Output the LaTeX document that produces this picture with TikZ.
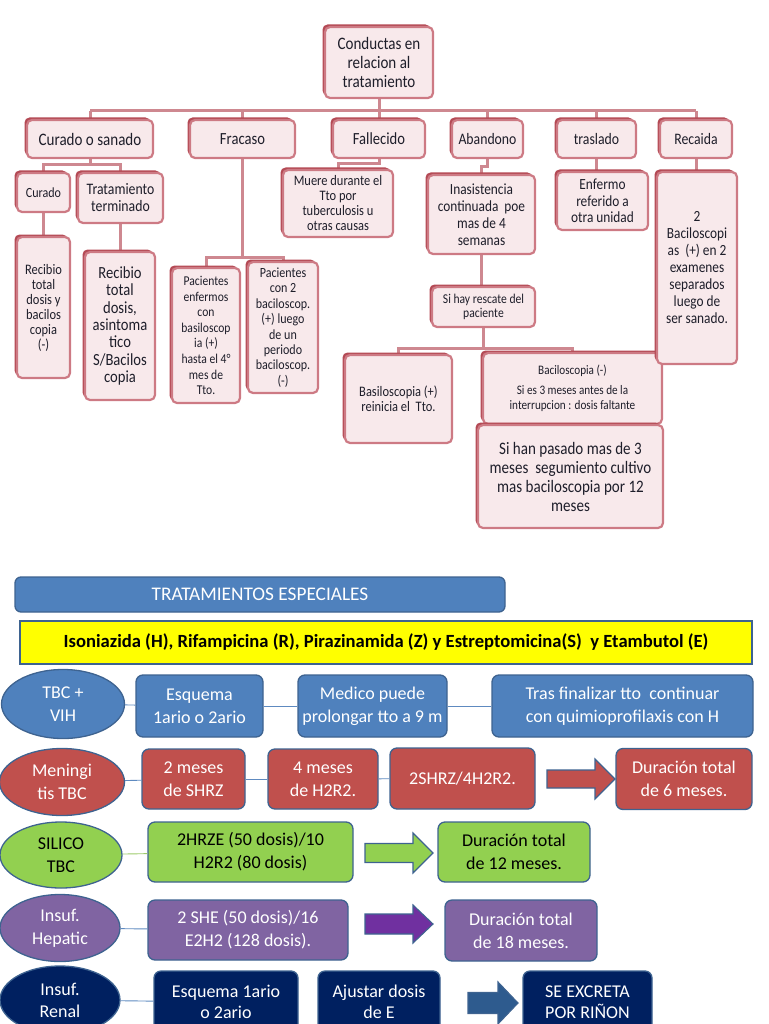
\documentclass[tikz,border=0pt]{standalone}
\usepackage{fontspec}
\setmainfont{Carlito}
\newfontfamily\cond[FakeStretch=0.86]{Carlito}
\usetikzlibrary{shapes.geometric,shadows,backgrounds}
\definecolor{bxborder}{HTML}{CD7A84}
\definecolor{bxfill}{HTML}{F8E9EB}
\definecolor{bxshadow}{HTML}{B44A55}
\definecolor{connc}{HTML}{CE8890}
\definecolor{txt}{HTML}{1E1E2A}
\definecolor{acblue}{HTML}{4F81BD}
\definecolor{acbord}{HTML}{3E6390}
\definecolor{acred}{HTML}{C0504D}
\definecolor{acgreen}{HTML}{92D050}
\definecolor{acpurple}{HTML}{8064A2}
\definecolor{arpurple}{HTML}{7030A0}
\definecolor{acnavy}{HTML}{002060}
\definecolor{arnavy}{HTML}{2E5B8E}
\definecolor{yel}{HTML}{FFFF00}
\definecolor{linkblue}{HTML}{5E8AC0}
\definecolor{linkgreen}{HTML}{9CCB6A}
\newcommand\fs[2]{\fontsize{#1}{#2}\selectfont}
\newcommand\blockarr[7]{%
  \filldraw[fill=#7, draw=acbord, line width=1.1pt, line join=miter]
    (#1,#4-#5) -- (#2,#4-#5) -- (#2,#4-#6) -- (#3,#4) -- (#2,#4+#6) -- (#2,#4+#5) -- (#1,#4+#5) -- cycle;}
\tikzset{
  tbox/.style={rectangle, rounded corners=5pt, draw=bxborder, line width=2.2pt, fill=bxfill,
    text=txt, align=center, inner sep=1pt,
    drop shadow={shadow xshift=-2.5pt, shadow yshift=2.5pt, fill=bxshadow, opacity=1}},
  tconn/.style={draw=connc, line width=3pt},
  bb/.style={rectangle, rounded corners=7pt, draw=acbord, line width=1.3pt, align=center,
    font=\fs{18}{23}, text=white, inner sep=1pt},
  ell/.style={ellipse, draw=acbord, line width=1.3pt, align=center, font=\fs{18}{23},
    text=white, inner sep=0pt},
  lk/.style={draw=linkblue, line width=0.9pt},
}
\begin{document}
\begin{tikzpicture}[x=1pt,y=-1pt]
\useasboundingbox (0,0) rectangle (768,1024);

% ---------------- top tree ----------------
\node[tbox, minimum width=108pt, minimum height=71pt, font=\cond\fs{17.5}{19}] (root) at (379,62.5) {Conductas en\\relacion al\\tratamiento};

\node[tbox, minimum width=126pt, minimum height=38pt, font=\cond\fs{17.5}{19}] (cs) at (90,139) {Curado o sanado};
\node[tbox, minimum width=105pt, minimum height=38pt, font=\cond\fs{17}{19}] (fr) at (242.5,139) {Fracaso};
\node[tbox, minimum width=92pt, minimum height=38pt, font=\cond\fs{17}{19}] (fa) at (379,139) {Fallecido};
\node[tbox, minimum width=71pt, minimum height=38pt, font=\cond\fs{16}{19}] (ab) at (487.5,139) {Abandono};
\node[tbox, minimum width=79pt, minimum height=38pt, font=\cond\fs{16}{19}] (tr) at (596.5,139) {traslado};
\node[tbox, minimum width=72pt, minimum height=38pt, font=\cond\fs{16}{19}] (re) at (696,139) {Recaida};

\node[tbox, minimum width=53pt, minimum height=39pt, font=\cond\fs{14}{16}] (cu) at (43.5,192.5) {Curado};
\node[tbox, minimum width=85pt, minimum height=50pt, font=\cond\fs{16}{17}] (tt) at (120.5,198) {Tratamiento\\terminado};
\node[tbox, minimum width=53pt, minimum height=141pt, font=\cond\fs{14.5}{15}] (rc1) at (43.5,307.5) {Recibio\\total\\dosis y\\bacilos\\copia\\(-)};
\node[tbox, minimum width=70pt, minimum height=148pt, font=\cond\fs{17}{17.3}] (rc2) at (120,326) {Recibio\\total\\dosis,\\asintoma\\tico\\S/Bacilos\\copia};

\node[tbox, minimum width=68pt, minimum height=135pt, font=\cond\fs{13.5}{15.6}] (pe) at (206,335.5) {Pacientes\\enfermos\\con\\basiloscop\\ia (+)\\hasta el 4°\\mes de\\Tto.};
\node[tbox, minimum width=70pt, minimum height=131pt, font=\cond\fs{14}{15.4}] (pc) at (283,327.5) {Pacientes\\con 2\\baciloscop.\\(+) luego\\de un\\periodo\\baciloscop.\\(-)};

\node[tbox, minimum width=110pt, minimum height=67pt, font=\cond\fs{14.5}{15}] (mu) at (338,203.5) {Muere durante el\\Tto por\\tuberculosis u\\otras causas};

\node[tbox, minimum width=107pt, minimum height=79pt, font=\cond\fs{15.5}{17}] (in) at (481.5,214.5) {Inasistencia\\continuada~ poe\\mas de 4\\semanas};
\node[tbox, minimum width=103pt, minimum height=40pt, font=\cond\fs{13.5}{14.5}] (sh) at (483.5,307) {Si hay rescate del\\paciente};
\node[tbox, minimum width=107pt, minimum height=88pt, font=\cond\fs{14.5}{15.5}] (bp) at (398.5,399) {Basiloscopia (+)\\reinicia el~ Tto.};
\node[tbox, minimum width=179pt, minimum height=71pt, font=\cond\fs{13}{15}] (bn) at (572.5,388.5) {Baciloscopia (-)\\[5pt]Si es 3 meses antes de la\\interrupcion : dosis faltante};
\node[tbox, minimum width=185pt, minimum height=103pt, font=\cond\fs{17.5}{19}] (sp) at (570.5,476.5) {Si han pasado mas de 3\\meses~ segumiento cultivo\\mas baciloscopia por 12\\meses};

\node[tbox, minimum width=91pt, minimum height=58pt, font=\cond\fs{15.5}{16.7}] (en) at (602.5,201) {Enfermo\\referido a\\otra unidad};
\node[tbox, minimum width=80pt, minimum height=192pt, font=\cond\fs{15.5}{17}] (b2) at (697,268) {2\\Baciloscopi\\as~ (+) en 2\\examenes\\separados\\luego de\\ser sanado.};

\begin{scope}[on background layer]
\draw[tconn] (root.south) -- (root.south |- 0,111);
\draw[tconn] (cs.north |- 0,111) -- (re.north |- 0,111);
\foreach \c in {cs,fr,fa,ab,tr,re} \draw[tconn] (\c.north |- 0,111) -- (\c.north);
\draw[tconn] (cs.south) -- ++(0,5) -| (cu.north);
\draw[tconn] (cs.south) -- ++(0,5) -| (tt.north);
\draw[tconn] (cu.south) -- (cu.south |- rc1.north);
\draw[tconn] (tt.south) -- (tt.south |- rc2.north);
\draw[tconn] (fr.south) -- (fr.south |- 0,257) -| (pe.north);
\draw[tconn] (fr.south |- 0,257) -| (pc.north);
\draw[tconn] (fa.south) -- ++(0,4) -| (mu.north);
\draw[tconn] (ab.south) -- ++(0,7) -| (in.north);
\draw[tconn] (in.south) -- (in.south |- sh.north);
\draw[tconn] (sh.south) -- ++(0,20) -| (bp.north);
\draw[tconn] (sh.south) -- ++(0,20) -| (bn.north);
\draw[tconn] (tr.south) -- (tr.south |- en.north);
\draw[tconn] (re.south) -- (re.south |- b2.north);
\end{scope}

% ---------------- bottom ----------------
\node[bb, fill=acblue, minimum width=490pt, minimum height=35pt, rounded corners=6pt, font=\fs{19.3}{23}] (title) at (260,594.5) {TRATAMIENTOS ESPECIALES};
\node[rectangle, draw=acbord, line width=1.5pt, fill=yel, minimum width=732pt, minimum height=43pt, font=\bfseries\fs{18.6}{22}, text=black] (drugs) at (386,642.5) {Isoniazida (H), Rifampicina (R), Pirazinamida (Z) y Estreptomicina(S)~ y Etambutol (E)};

% row 1
\node[ell, fill=acblue, minimum width=123pt, minimum height=69pt] (e1) at (63,704) {TBC +\\VIH};
\node[bb, fill=acblue, minimum width=127pt, minimum height=62pt] (b11) at (199.5,706) {Esquema\\1ario o 2ario};
\node[bb, fill=acblue, minimum width=149pt, minimum height=62pt] (b12) at (372.5,706) {Medico puede\\prolongar tto a 9 m};
\node[bb, fill=acblue, minimum width=261pt, minimum height=62pt] (b13) at (622.5,706) {Tras finalizar tto~ continuar\\con quimioprofilaxis con H};
\draw[lk] (e1) -- (b11);
\draw[lk] (b11) -- (b12);
\draw[lk] (b12) -- (b13);

% row 2
\node[ell, fill=acred, minimum width=125pt, minimum height=67pt] (e2) at (62,782) {Meningi\\tis TBC};
\node[bb, fill=acred, minimum width=103pt, minimum height=60pt] (b21) at (193.5,779) {2 meses\\de SHRZ};
\node[bb, fill=acred, minimum width=110pt, minimum height=60pt] (b22) at (323,779) {4 meses\\de H2R2.};
\node[bb, fill=acred, minimum width=145pt, minimum height=61pt] (b23) at (462.5,778.5) {2SHRZ/4H2R2.};
\node[bb, fill=acred, minimum width=136pt, minimum height=61pt] (b24) at (684,779) {Duración total\\de 6 meses.};
\draw[lk] (e2) -- (b21);
\draw[lk] (b21) -- (b22);
\draw[lk] (b22) -- (b23);
\blockarr{547}{595}{615}{779}{9}{20}{acred}

% row 3
\node[ell, fill=acgreen, minimum width=122pt, minimum height=66pt, text=black] (e3) at (61,855) {SILICO\\TBC};
\node[bb, fill=acgreen, minimum width=205pt, minimum height=60pt, text=black] (b31) at (250.5,852) {2HRZE (50 dosis)/10\\H2R2 (80 dosis)};
\node[bb, fill=acgreen, minimum width=152pt, minimum height=60pt, text=black] (b32) at (514,852) {Duración total\\de 12 meses.};
\draw[draw=linkgreen, line width=0.9pt] (e3) -- (b31);
\blockarr{365}{413}{433}{853}{9.5}{20}{acgreen}

% row 4
\node[ell, fill=acpurple, minimum width=120pt, minimum height=67pt] (e4) at (60,928) {Insuf.\\Hepatic};
\node[bb, fill=acpurple, minimum width=200pt, minimum height=60pt] (b41) at (248,930) {2 SHE (50 dosis)/16\\E2H2 (128 dosis).};
\node[bb, fill=acpurple, minimum width=152pt, minimum height=61pt] (b42) at (521,930.5) {Duración total\\de 18 meses.};
\draw[lk] (e4) -- (b41);
\blockarr{365}{413}{433}{924}{10}{19}{arpurple}

% row 5
\node[ell, fill=acnavy, minimum width=120pt, minimum height=68pt, font=\fs{18}{22}] (e5) at (60,1000) {Insuf.\\Renal};
\node[bb, fill=acnavy, minimum width=144pt, minimum height=62pt, font=\fs{18}{21.5}] (b51) at (226,1002) {Esquema 1ario\\o 2ario};
\node[bb, fill=acnavy, minimum width=122pt, minimum height=62pt, font=\fs{18}{21.5}] (b52) at (379,1002) {Ajustar dosis\\de E};
\node[bb, fill=acnavy, minimum width=129pt, minimum height=62pt, font=\fs{18}{21.5}] (b53) at (587.5,1002) {SE EXCRETA\\POR RIÑON};
\draw[lk] (e5) -- (b51);
\blockarr{468}{498}{518}{1003}{10.5}{21}{arnavy}
\end{tikzpicture}
\end{document}
